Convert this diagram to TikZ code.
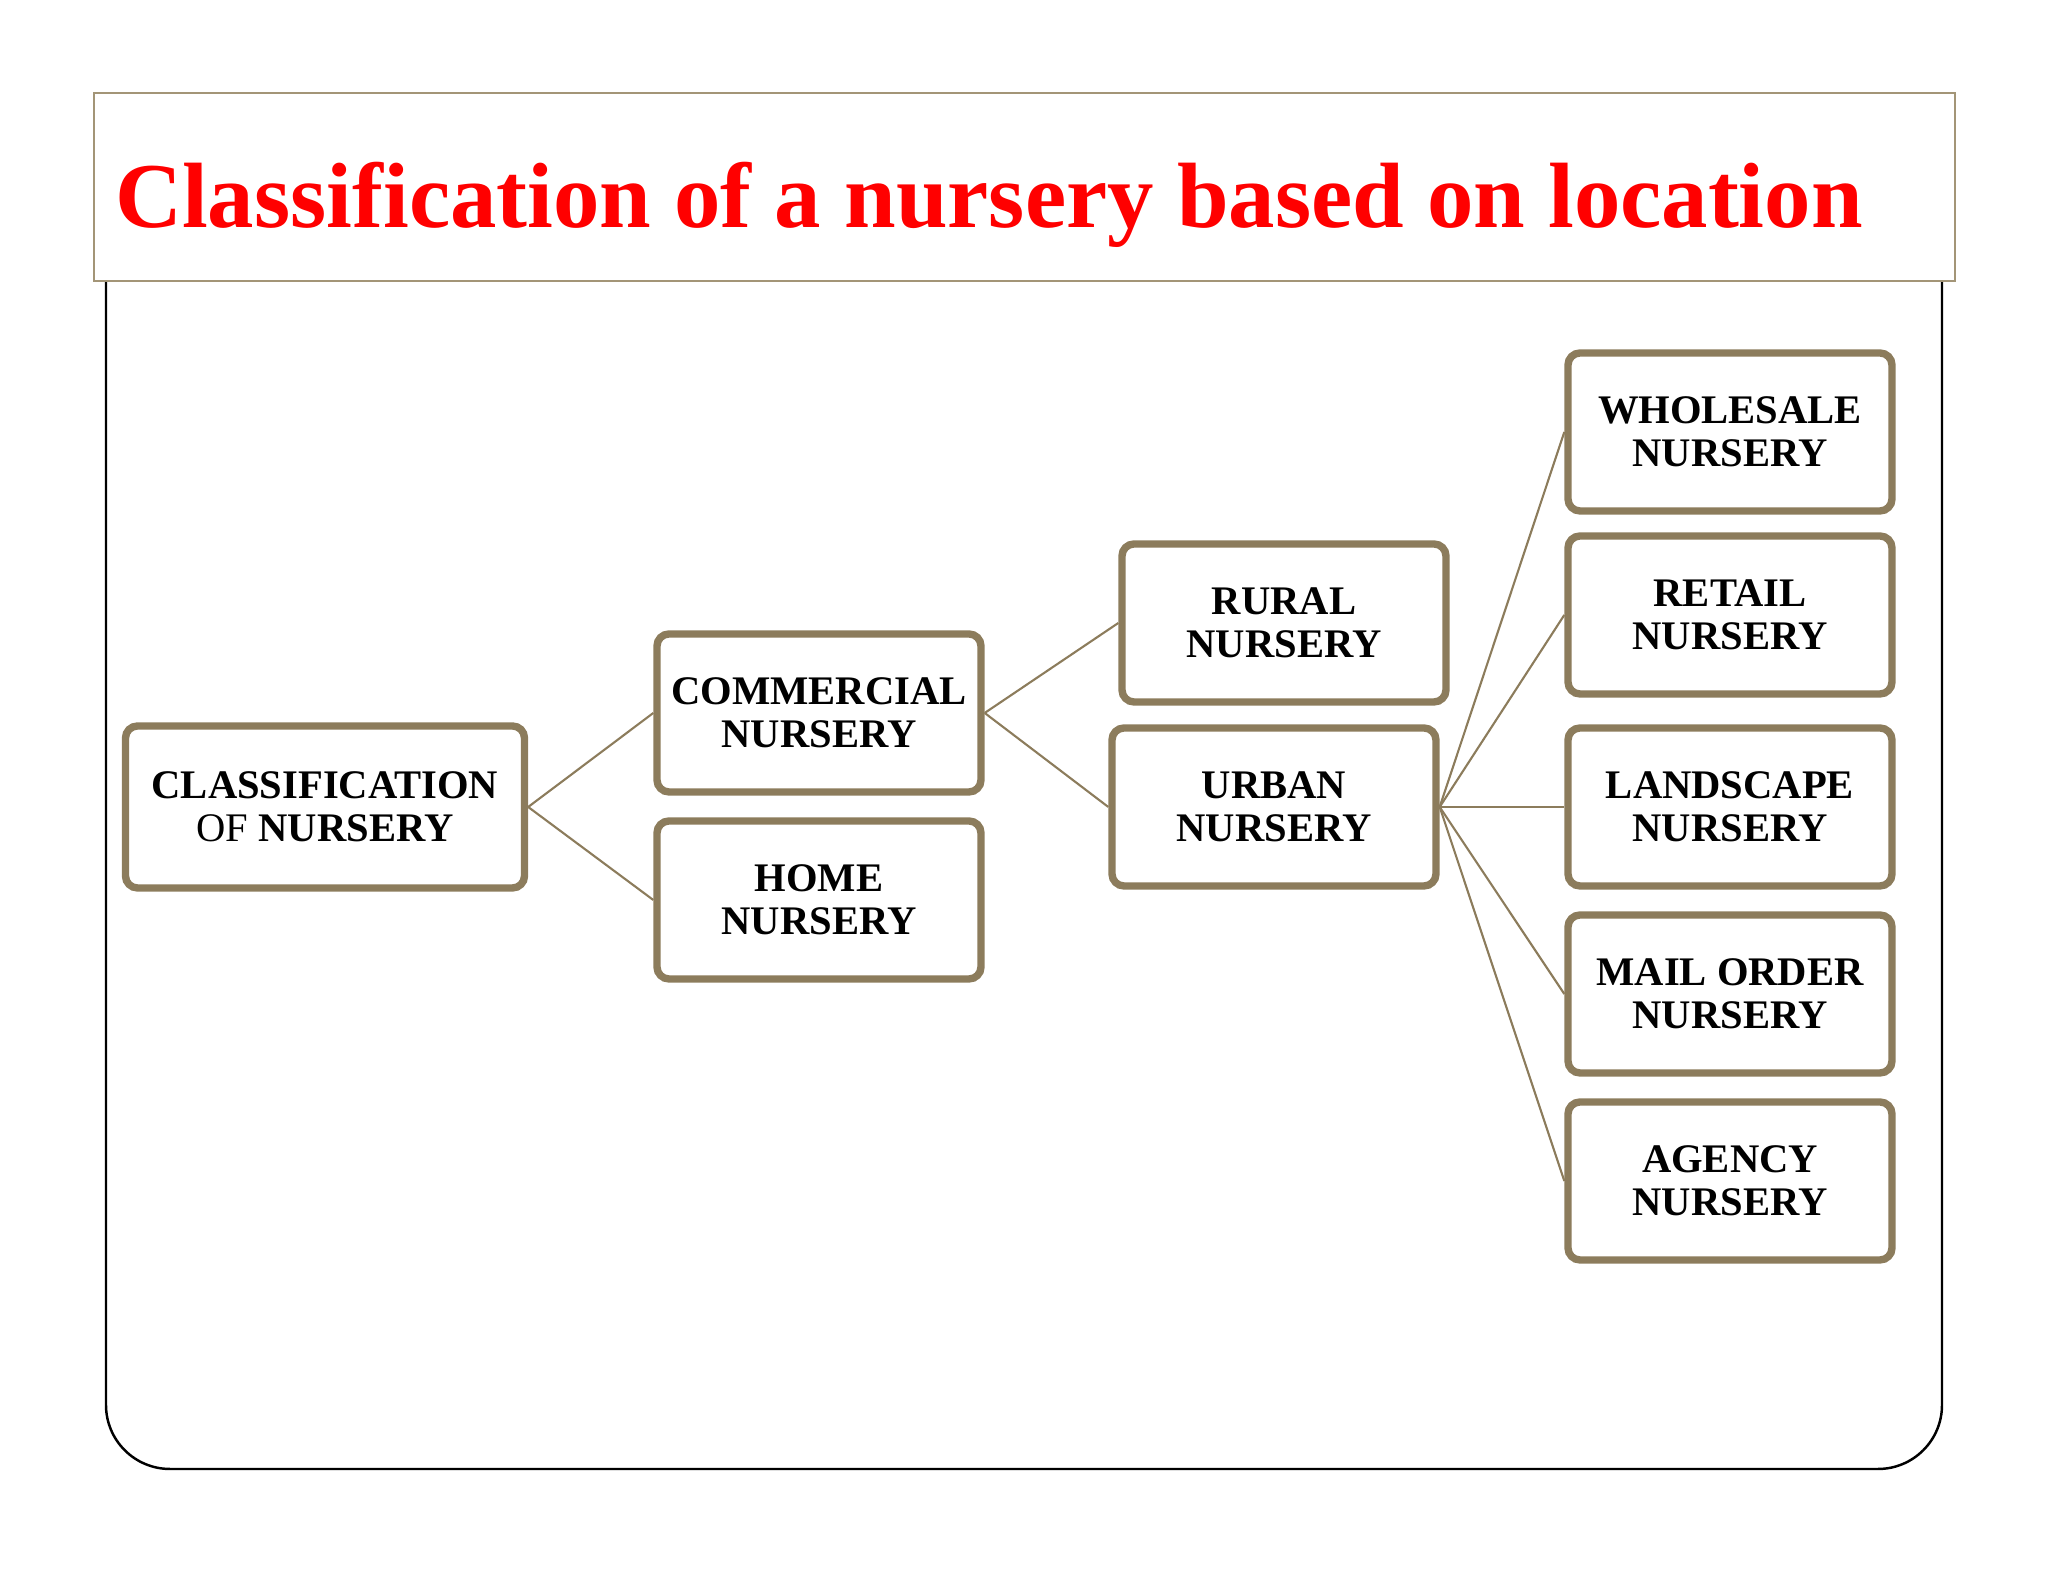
\documentclass[tikz,border=0pt]{standalone}
\usepackage{fontspec}
\setmainfont{Liberation Serif}
\usepackage{xcolor}
\usepackage{tikz}
\usetikzlibrary{positioning}

\definecolor{boxtan}{HTML}{8C7C5C}
\definecolor{titletan}{HTML}{A39577}

\begin{document}
\begin{tikzpicture}[
    node distance=1.87cm,
    nurserybox/.style={draw=boxtan, line width=2.1pt, rounded corners=0.12cm, fill=white, minimum width=3.24cm, minimum height=1.58cm, align=center, font=\fontsize{11.55}{12.3}\selectfont\bfseries},
    connector/.style={draw=boxtan, line width=0.6pt}
]
    \useasboundingbox (0,0) rectangle (20.48,15.82);

    % Frame and heading
    \draw[black, line width=0.7pt, rounded corners=0.64cm] (1.06,14.2) rectangle (19.42,1.13);
    \node (titlebox) [draw=titletan, line width=0.6pt, fill=white, minimum width=18.61cm, minimum height=1.88cm] at (10.245,13.95) {};
    \node (title) [anchor=base west, inner sep=0pt, text=red, font=\fontsize{26.4}{30}\selectfont\bfseries] at (1.145,13.54) {Classification of a nursery based on location};

    % Node placement
    \node (classif) [nurserybox, minimum width=3.99cm, minimum height=1.62cm] at (3.25,7.75) {CLASSIFICATION\\{\mdseries OF} NURSERY};
    \node (comm) [nurserybox] at (8.19,8.69) {COMMERCIAL\\NURSERY};
    \node (home) [nurserybox, below of=comm] {HOME\\NURSERY};
    \node (urban) [nurserybox] at (12.74,7.75) {URBAN\\NURSERY};
    \node (rural) [nurserybox, above of=urban, node distance=1.84cm, xshift=0.1cm] {RURAL\\NURSERY};
    \node (land) [nurserybox] at (17.3,7.75) {LANDSCAPE\\NURSERY};
    \node (retail) [nurserybox, above of=land, node distance=1.92cm] {RETAIL\\NURSERY};
    \node (whole) [nurserybox, above of=retail, node distance=1.83cm] {WHOLESALE\\NURSERY};
    \node (mail) [nurserybox, below of=land] {MAIL ORDER\\NURSERY};
    \node (agency) [nurserybox, below of=mail] {AGENCY\\NURSERY};

    % Connectors
    \path[connector] (classif.east) -- (comm.west);
    \path[connector] (classif.east) -- (home.west);
    \path[connector] (comm.east) -- (rural.west);
    \path[connector] (comm.east) -- (urban.west);
    \foreach \kind in {whole, retail, land, mail, agency}
        \path[connector] (urban.east) -- (\kind.west);

\end{tikzpicture}
\end{document}
